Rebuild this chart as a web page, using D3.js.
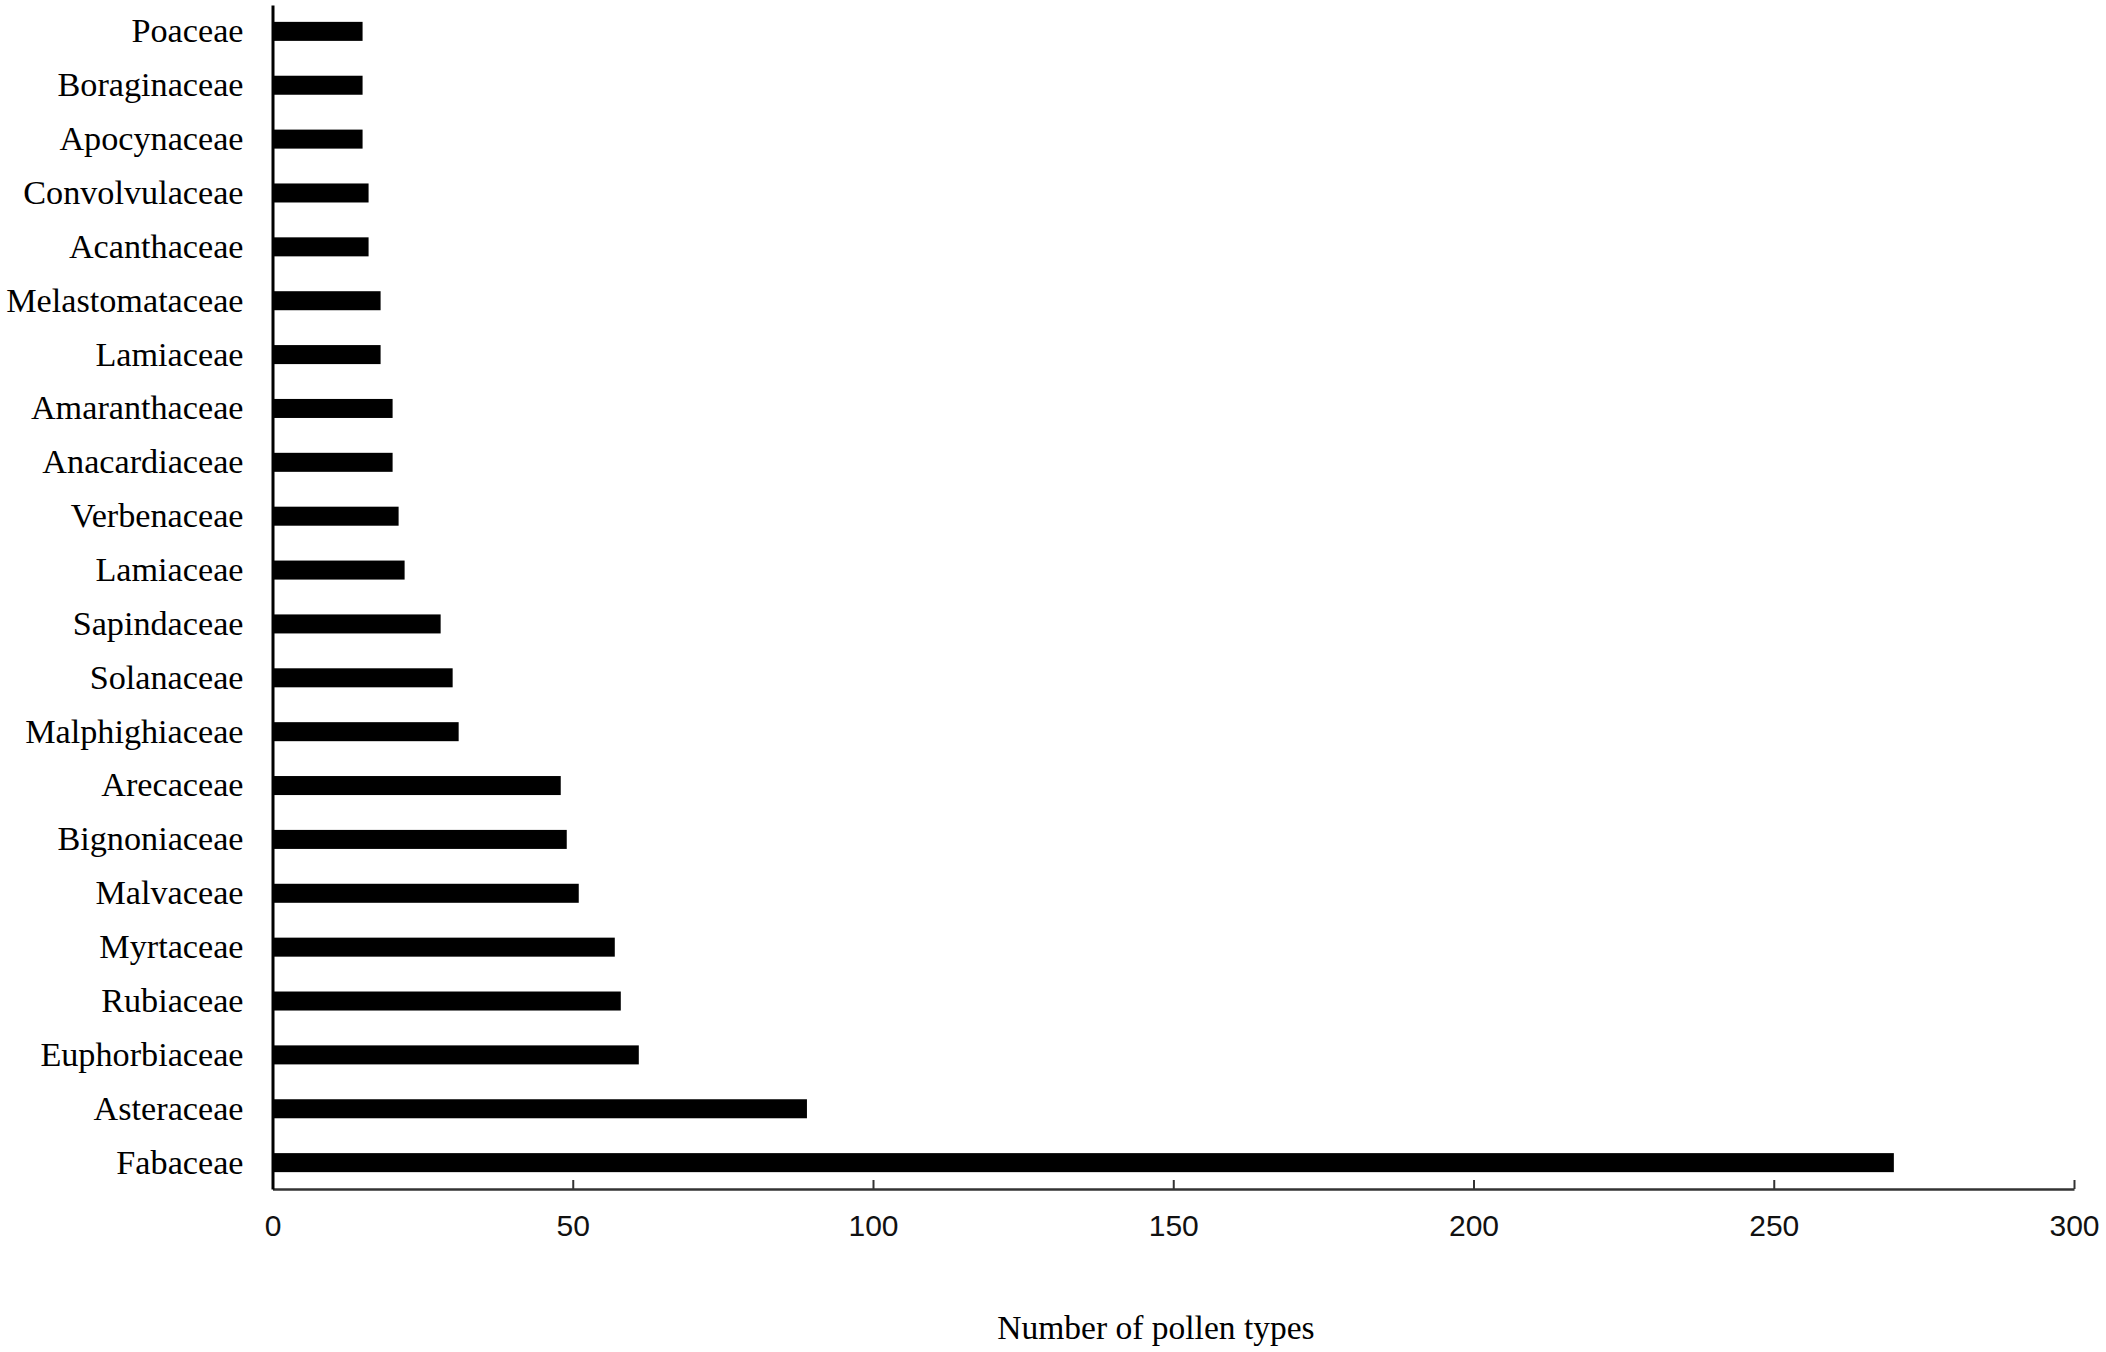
<!DOCTYPE html>
<html lang="en">
<head>
    <meta charset="utf-8">
    <title>Number of pollen types by family</title>
    <script src="https://d3js.org/d3.v7.min.js"></script>
    <style>
        body, html {
            margin: 0;
            padding: 0;
            background: #fff;
        }
        .cat text {
            font-family: "Liberation Serif", "Times New Roman", serif;
            font-size: 34.2px;
            fill: #000;
        }
        .xaxis text {
            font-family: "Liberation Sans", Arial, sans-serif;
            font-size: 30px;
            fill: #111;
        }
        .title {
            font-family: "Liberation Serif", "Times New Roman", serif;
            font-size: 33.5px;
            fill: #000;
        }
    </style>
</head>
<body>
<div id="chart"></div>
<script>
    // families, top to bottom
    var families = ["Poaceae", "Boraginaceae", "Apocynaceae", "Convolvulaceae", "Acanthaceae",
        "Melastomataceae", "Lamiaceae", "Amaranthaceae", "Anacardiaceae", "Verbenaceae",
        "Lamiaceae ", "Sapindaceae", "Solanaceae", "Malphighiaceae", "Arecaceae", "Bignoniaceae",
        "Malvaceae", "Myrtaceae", "Rubiaceae", "Euphorbiaceae", "Asteraceae", "Fabaceae"];
    var counts = [15, 15, 15, 16, 16, 18, 18, 20, 20, 21, 22, 28, 30, 31, 48, 49, 51, 57, 58, 61, 89, 270];
    var xTicks = [0, 50, 100, 150, 200, 250, 300];
    var xTitle = "Number of pollen types";

    var w = 2106;
    var h = 1352;

    var svg = d3.select("#chart")
        .append("svg")
        .attr("width", w)
        .attr("height", h);

    var xScale = d3.scaleLinear()
        .domain([0, 300])
        .range([272.5, 2074]);

    var yScale = d3.scaleBand()
        .domain(families)
        .range([5, 1189])
        .paddingInner(0.647)
        .paddingOuter(0.313);

    // bars
    svg.selectAll("rect")
        .data(counts)
        .enter()
        .append("rect")
        .attr("x", xScale(0))
        .attr("y", function (d, i) { return yScale(families[i]); })
        .attr("width", function (d) { return xScale(d) - xScale(0); })
        .attr("height", yScale.bandwidth())
        .attr("fill", "#000");

    // x axis, ticks pointing up into the plot
    var xAxis = d3.axisBottom(xScale)
        .tickValues(xTicks)
        .tickFormat(d3.format("d"))
        .tickSizeInner(-9)
        .tickSizeOuter(0)
        .tickPadding(26);

    var gx = svg.append("g")
        .attr("class", "xaxis")
        .attr("transform", "translate(0," + 1189 + ")")
        .call(xAxis);
    gx.select(".domain").attr("stroke", "#333").attr("stroke-width", 2.5);
    gx.selectAll(".tick line").attr("stroke", "#333").attr("stroke-width", 2);
    gx.attr("font-size", null).attr("font-family", null);

    // y axis with family names
    var yAxis = d3.axisLeft(yScale)
        .tickSize(0)
        .tickPadding(29);

    var gy = svg.append("g")
        .attr("class", "cat")
        .attr("transform", "translate(" + xScale(0) + ",0)")
        .call(yAxis);
    gy.attr("font-size", null).attr("font-family", null);
    gy.select(".domain").attr("stroke", "#000").attr("stroke-width", 3);

    // axis title
    svg.append("text")
        .attr("class", "title")
        .attr("x", 1156)
        .attr("y", 1339)
        .attr("text-anchor", "middle")
        .text(xTitle);
</script>
</body>
</html>
